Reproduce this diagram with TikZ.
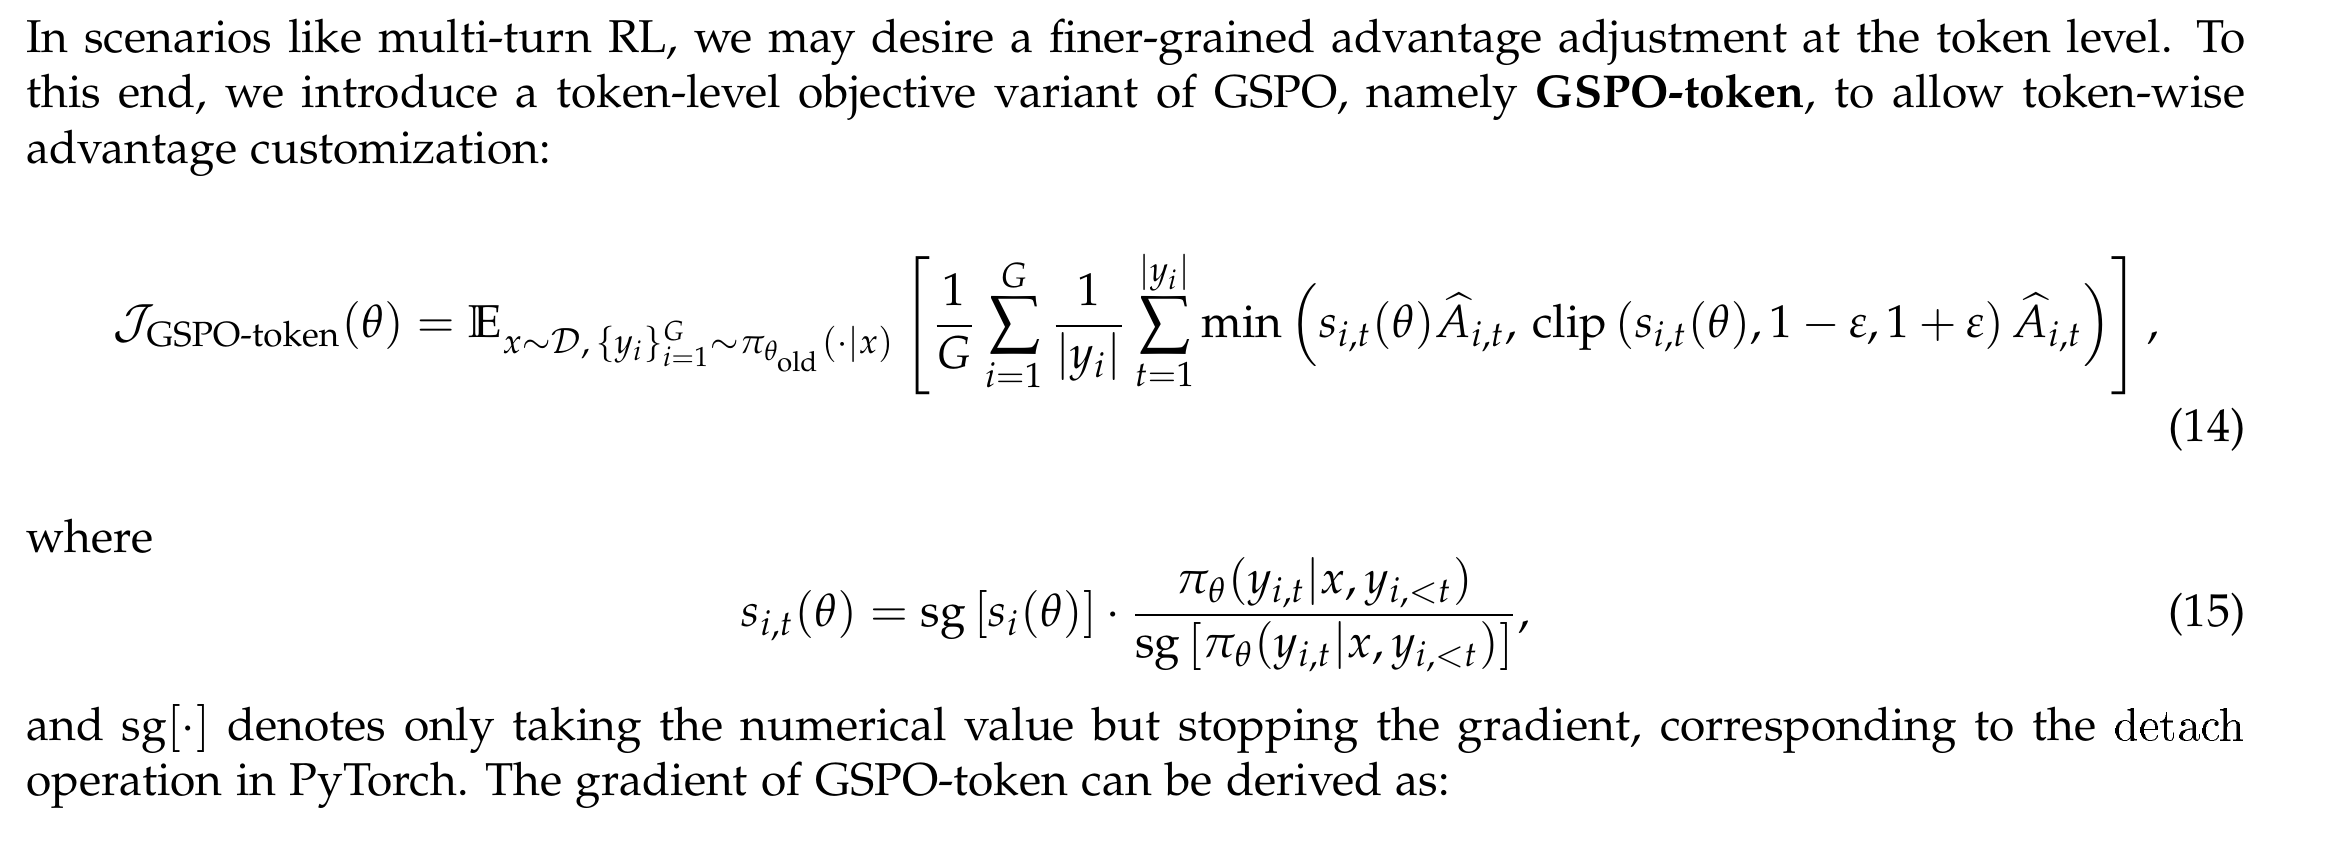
\documentclass[tikz,border=0pt]{standalone}
\usepackage[T1]{fontenc}
\usepackage{amsmath,amssymb}
\usepackage[sc]{mathpazo}
\begin{document}
\begin{tikzpicture}[x=1pt,y=1pt]
\useasboundingbox (0,0) rectangle (510,-185);
\node[anchor=north west,inner sep=0pt,text width=482pt,align=justify] (body) at (5.5,-4) {%
In scenarios like multi-turn RL, we may desire a finer-grained advantage adjustment at the token level. To this end, we introduce a token-level objective variant of GSPO, namely \textbf{GSPO-token}, to allow token-wise advantage customization:
\setlength{\abovedisplayskip}{15pt}\setlength{\belowdisplayskip}{2pt}%
\begin{equation*}
\mathcal{J}_{\text{GSPO-token}}(\theta)=\mathbb{E}_{x\sim\mathcal{D},\,\{y_i\}_{i=1}^G\sim\pi_{\theta_{\text{old}}}(\cdot|x)}\left[\frac{1}{G}\sum_{i=1}^{G}\frac{1}{|y_i|}\sum_{t=1}^{|y_i|}\min\Big(s_{i,t}(\theta)\widehat{A}_{i,t},\,\mathrm{clip}\left(s_{i,t}(\theta),1-\varepsilon,1+\varepsilon\right)\widehat{A}_{i,t}\Big)\right],
\end{equation*}
\mbox{}\hfill(14)\par\vspace{12pt}
where
\setlength{\abovedisplayskip}{14pt}\setlength{\belowdisplayskip}{11pt}%
\begin{equation}\tag{15}
s_{i,t}(\theta)=\mathrm{sg}\left[s_i(\theta)\right]\cdot\frac{\pi_\theta(y_{i,t}|x,y_{i,<t})}{\mathrm{sg}\left[\pi_\theta(y_{i,t}|x,y_{i,<t})\right]},
\end{equation}
and sg$[\cdot]$ denotes only taking the numerical value but stopping the gradient, corresponding to the \texttt{detach} operation in PyTorch. The gradient of GSPO-token can be derived as:
};
\end{tikzpicture}
\end{document}
